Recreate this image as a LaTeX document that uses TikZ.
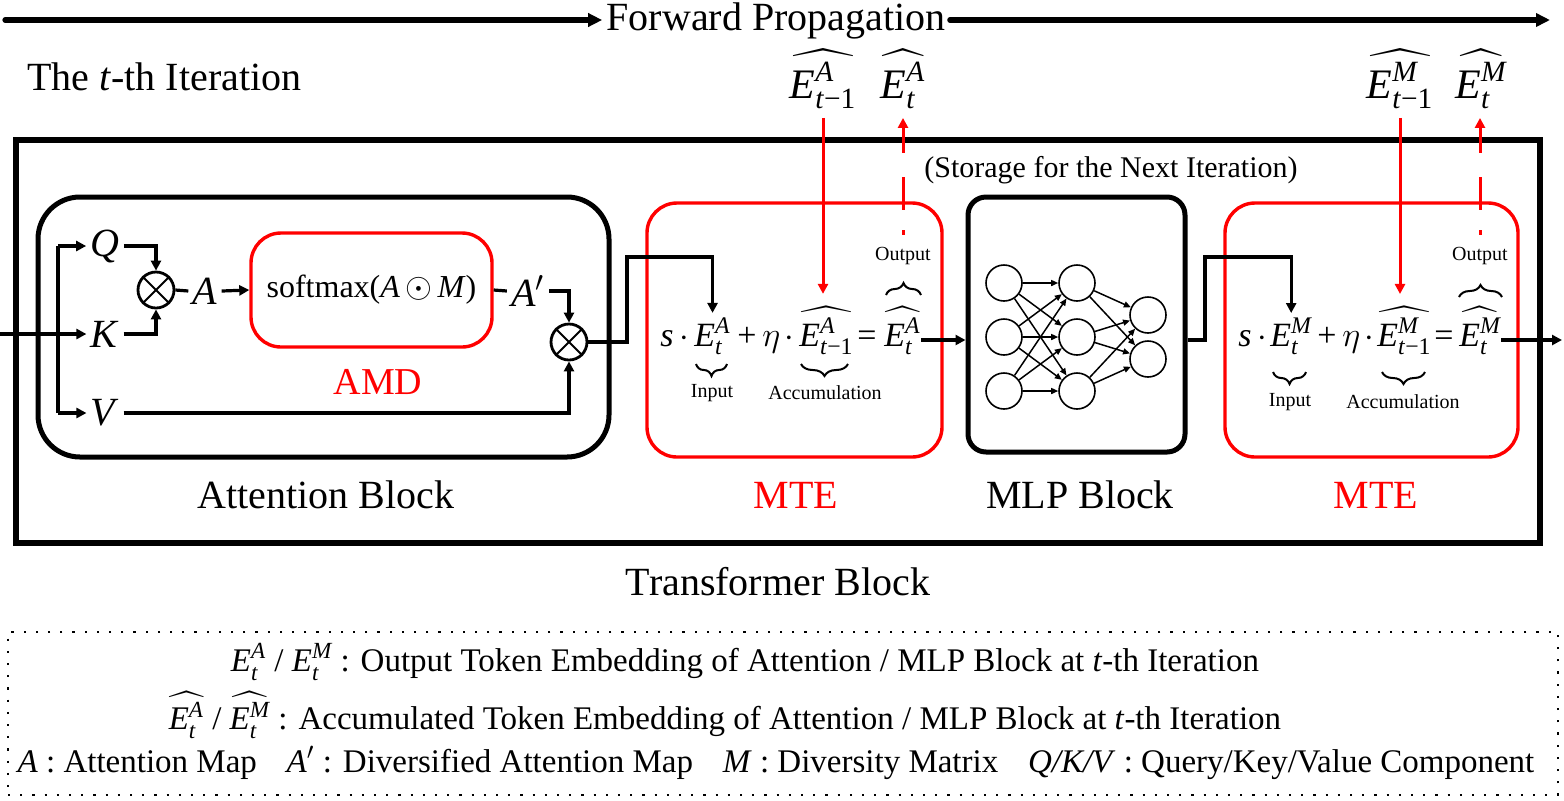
\documentclass[tikz,border=0pt]{standalone}
\usepackage{amsmath}
\usepackage{fontspec}
\setmainfont{Liberation Serif}
\usetikzlibrary{arrows.meta,decorations.pathreplacing,calc}
\definecolor{mred}{RGB}{255,0,0}
\newcommand{\mi}[1]{\textit{#1}}
\newcommand{\EE}[2]{\mi{E}^{\mi{#1}}_{#2}}
\newcommand{\tmo}{\text{\mi{t}−1}}
\newcommand{\fs}[2]{\fontsize{#1}{#2}\selectfont}
\begin{document}
\begin{tikzpicture}[x=0.5pt,y=-0.5pt,
  big/.style={font=\fs{20}{24}},
  small/.style={font=\fs{10}{12},inner sep=1pt},
  leg/.style={font=\fs{16.5}{20}},
  conn/.style={line width=1.6pt},
  arr/.style={conn,-{Triangle[length=5pt,width=5pt]}},
  toparr/.style={line width=2.6pt,line cap=round,-{Triangle[length=7pt,width=6.5pt]}},
  rarr/.style={line width=1.5pt,draw=mred,-{Triangle[length=5pt,width=5pt]}},
  rdash/.style={rarr,dash pattern=on 2.5pt off 10pt on 16.5pt off 12pt on 60pt off 1pt},
  blkbox/.style={draw,line width=2.5pt,inner sep=0pt},
  redbox/.style={draw=mred,line width=1.7pt,rounded corners=15pt,inner sep=0pt},
  otimes/.style={circle,draw,line width=1.4pt,minimum size=18pt,inner sep=0pt},
  letter/.style={big,inner sep=2pt},
  eqp/.style={inner sep=0pt,anchor=base west,font=\fs{17}{21}},
  tlab/.style={inner sep=0pt,anchor=base,font=\fs{21}{25}},
  neu/.style={circle,draw,line width=0.8pt,minimum size=18pt,inner sep=0pt},
  nnarr/.style={line width=0.75pt,-{Triangle[length=3.5pt,width=3pt]}},
  brc/.style={decorate,line width=1pt,decoration={brace,amplitude=6pt}},
  brcm/.style={decorate,line width=1pt,decoration={brace,mirror,amplitude=6pt}},
  legbox/.style={draw,line width=1.1pt,dash pattern=on 1.1pt off 5pt}
]
\useasboundingbox (0,0) rectangle (1564,800);

% ---- top
\node[big,inner sep=2pt,anchor=base] (fp) at (776,30) {Forward Propagation};
\coordinate (fpL) at (5,20);
\coordinate (fpR) at (1550,20);
\draw[toparr] (fpL) -- (fpL -| fp.west);
\draw[toparr] (fp.east |- fpR) -- (fpR);
\node[big,anchor=base west,inner sep=0pt] (iter) at (27,90) {The \textit{t}-th Iteration};

% ---- outer box
\node[draw,line width=3pt,minimum width=762pt,minimum height=201.5pt,inner sep=0pt] (tb) at (778,341.5) {};
\node[big] (tbl) at (778,582) {Transformer Block};

% ---- attention block
\node[blkbox,rounded corners=21pt,minimum width=285.5pt,minimum height=130pt] (att) at (323.5,327) {};
\node[big] (attl) at (326,495) {Attention Block};
\node[letter] (Q) at (105,246) {\textit{Q}};
\node[letter] (K) at (105,334) {\textit{K}};
\node[letter] (V) at (105,413) {\textit{V}};
\node[otimes] (o1) at (156,290) {};
\draw[line width=1pt] (o1.north west) -- (o1.south east) (o1.north east) -- (o1.south west);
\node[letter] (Al) at (205,291) {\textit{A}};
\node[redbox,minimum width=120.5pt,minimum height=57pt] (amd) at (371.5,290) {\fs{16}{19}softmax(\textit{A}\,$\odot$\,\textit{M})};
\node[big,text=mred,font=\fs{19}{22}] (amdl) at (378,382) {AMD};
\node[letter] (Apl) at (528,291) {\textit{A}$'$};
\node[otimes] (o2) at (569,342) {};
\draw[line width=1pt] (o2.north west) -- (o2.south east) (o2.north east) -- (o2.south west);

% ---- MTE 1
\node[redbox,minimum width=147.5pt,minimum height=127pt] (mte1) at (794.5,330) {};
\node[big,text=mred] (mte1l) at (796,495) {MTE};
\node[eqp] (s1) at (660,346) {$\mi{s}\mkern3mu{\cdot}$};
\node[eqp] (inA) at (694,346) {$\EE{A}{\mi{t}}$};
\node[eqp] (p1) at (737,346) {$\text{+}\mkern3mu\eta\mkern2mu{\cdot}$};
\node[eqp] (accA) at (799,346) {$\widehat{\EE{A}{\tmo}}$};
\node[eqp] (e1) at (857,346) {$\text{=}$};
\node[eqp] (outA) at (884,346) {$\widehat{\EE{A}{\mi{t}}}$};
\draw[brcm] (696,364) -- (727,364);
\draw[brcm] (801,364) -- (848,364);
\draw[brc] (886,295) -- (921,295);
\node[small] (iA) at (712,393) {Input};
\node[small] (cA) at (825,393) {Accumulation};
\node[small] (oA) at (903,256) {Output};
\node[tlab] (tAm1) at (823,98) {$\widehat{\EE{A}{\tmo}}$};
\node[tlab] (tA) at (903,98) {$\widehat{\EE{A}{\mi{t}}}$};

% ---- MLP block
\node[blkbox,rounded corners=9pt,minimum width=108.5pt,minimum height=127.5pt] (mlp) at (1076.5,324.5) {};
\node[big] (mlpl) at (1080,495) {MLP Block};
\node[neu] (n11) at (1004,283) {};
\node[neu] (n12) at (1004,337) {};
\node[neu] (n13) at (1004,391) {};
\node[neu] (n21) at (1077,283) {};
\node[neu] (n22) at (1077,337) {};
\node[neu] (n23) at (1077,391) {};
\node[neu] (n31) at (1148,315) {};
\node[neu] (n32) at (1148,359) {};
\foreach \i in {1,2,3} {\foreach \j in {1,2,3} {\draw[nnarr] (n1\i) -- (n2\j);}}
\foreach \i in {1,2,3} {\foreach \j in {1,2} {\draw[nnarr] (n2\i) -- (n3\j);}}

% ---- MTE 2
\node[redbox,minimum width=146.5pt,minimum height=127pt] (mte2) at (1371.5,330) {};
\node[big,text=mred] (mte2l) at (1376,495) {MTE};
\node[eqp] (s2) at (1238,346) {$\mi{s}\mkern3mu{\cdot}$};
\node[eqp] (inM) at (1270,346) {$\EE{M}{\mi{t}}$};
\node[eqp] (p2) at (1317,346) {$\text{+}\mkern3mu\eta\mkern2mu{\cdot}$};
\node[eqp] (accM) at (1377,346) {$\widehat{\EE{M}{\tmo}}$};
\node[eqp] (e2) at (1434,346) {$\text{=}$};
\node[eqp] (outM) at (1459,346) {$\widehat{\EE{M}{\mi{t}}}$};
\draw[brcm] (1273,372) -- (1306,372);
\draw[brcm] (1382,372) -- (1425,372);
\draw[brc] (1459,297) -- (1502,297);
\node[small] (iM) at (1290,402) {Input};
\node[small] (cM) at (1403,402) {Accumulation};
\node[small] (oM) at (1480,256) {Output};
\node[tlab] (tMm1) at (1400,98) {$\widehat{\EE{M}{\tmo}}$};
\node[tlab] (tM) at (1481,98) {$\widehat{\EE{M}{\mi{t}}}$};

\node[font=\fs{15}{18}] (stor) at (1111,170) {(Storage for the Next Iteration)};

% ---- connectors
\coordinate (inL) at (0,334);
\coordinate (br) at (58,334);
\draw[conn] (br |- Q.west) -- (br |- V.west);
\draw[arr] (br |- Q.west) -- (Q.west);
\draw[arr] (inL) -- (K.west);
\draw[arr] (br |- V.west) -- (V.west);
\draw[arr] (Q.east) -| (o1.north);
\draw[arr] (K.east) -| (o1.south);
\draw[conn] (o1.east) -- (Al.west);
\draw[arr] (Al.east) -- (amd.west);
\draw[conn] (amd.east) -- (Apl.west);
\draw[arr] (Apl.east) -| (o2.north);
\draw[arr] (V.east) -| (o2.south);
\coordinate (j1) at (627,257);
\draw[arr,shorten >=2pt] (o2.east) -| (j1) -| (inA.north);
\draw[arr] (outA.east |- 0,340) -- (mlp.west |- 0,340);
\coordinate (j2) at (1205,257);
\draw[arr,shorten >=2pt] (mlp.east |- 0,340) -| (j2) -| (inM.north);
\coordinate (outEnd) at (1562,340);
\draw[arr] (outM.east |- outEnd) -- (outEnd);

% ---- red storage arrows
\draw[rarr,shorten <=4.5pt,shorten >=6pt] (tAm1.south) -- (tAm1.south |- accA.north);
\draw[rdash,shorten <=5pt,shorten >=4.5pt] (oA.north) -- (oA.north |- tA.south);
\draw[rarr,shorten <=4.5pt,shorten >=6pt] (tMm1.south) -- (tMm1.south |- accM.north);
\draw[rdash,shorten <=5pt,shorten >=4.5pt] (oM.north) -- (oM.north |- tM.south);

% ---- legend
\node[legbox,minimum width=775pt,minimum height=81.5pt,inner sep=0pt] (legb) at (783,713.5) {};
\node[leg] (l1) at (745,662) {$\EE{A}{\mi{t}}$ / $\EE{M}{\mi{t}}$ : Output Token Embedding of Attention / MLP Block at \textit{t}-th Iteration};
\node[leg] (l2) at (725,715) {$\widehat{\EE{A}{\mi{t}}}$ / $\widehat{\EE{M}{\mi{t}}}$ : Accumulated Token Embedding of Attention / MLP Block at \textit{t}-th Iteration};
\node[leg] (l3) at (776,763) {\textit{A} : Attention Map\hspace{0.9em}\textit{A}$'$ : Diversified Attention Map\hspace{0.9em}\textit{M} : Diversity Matrix\hspace{0.9em}\textit{Q/K/V} : Query/Key/Value Component};
\end{tikzpicture}
\end{document}
